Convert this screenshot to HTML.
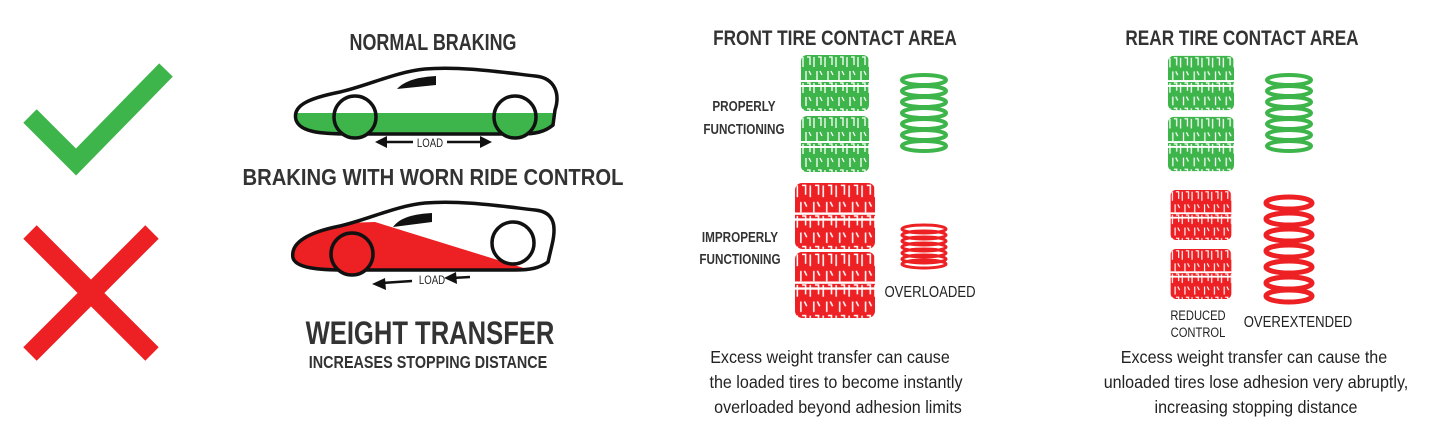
<!DOCTYPE html>
<html><head><meta charset="utf-8"><style>
html,body{margin:0;padding:0;background:#fff;}
svg{display:block}
text{font-family:"Liberation Sans",sans-serif;font-weight:bold;fill:#333;}
text.n{font-weight:normal;fill:#222;}
</style></head><body>
<svg width="1440" height="440" viewBox="0 0 1440 440" xmlns="http://www.w3.org/2000/svg">
<defs>
<pattern id="tread" width="11" height="26" patternUnits="userSpaceOnUse">
 <path d="M2,2 L2,12 M6,2 L9,2 L9,10 M5,16 L5,25 M8,16 L10,20" stroke="#fff" stroke-width="1.3" fill="none"/>
</pattern>
<symbol id="tireG" viewBox="0 0 68 56">
 <rect x="0" y="0" width="68" height="56" rx="6" fill="#3db54a"/>
 <rect x="0" y="0" width="68" height="56" fill="url(#tread)"/>
 <rect x="0" y="25" width="68" height="2" fill="#fff"/><rect x="0" y="30" width="68" height="2" fill="#fff"/>
</symbol>
<symbol id="tireR" viewBox="0 0 68 56">
 <rect x="0" y="0" width="68" height="56" rx="6" fill="#ed2024"/>
 <rect x="0" y="0" width="68" height="56" fill="url(#tread)"/>
 <rect x="0" y="25" width="68" height="2" fill="#fff"/><rect x="0" y="30" width="68" height="2" fill="#fff"/>
</symbol>
<clipPath id="car1"><path d="M296,120 C292,105 310,98 340,92 C370,85 395,72 425,69 C460,66 500,72 535,76 C556,78 560,95 555,110 L553,125 C545,132 535,134 520,134 L350,134 C320,134 300,132 296,120Z"/></clipPath>
<clipPath id="car2"><path d="M293,258 C290,242 310,232 340,226 C370,219 395,206 425,203 C460,200 500,206 535,210 C556,212 556,228 552,245 L548,262 C540,268 530,270 515,270 L345,270 C318,270 296,268 293,258Z"/></clipPath>
<clipPath id="band"><rect x="280" y="113" width="290" height="40"/></clipPath>
</defs>

<polyline points="30,116 76,162 166,70" fill="none" stroke="#3db54a" stroke-width="19"/>
<path d="M30,232 L152,354 M152,232 L30,354" stroke="#ed2024" stroke-width="19"/>

<text x="433" y="50" font-size="23" text-anchor="middle" transform="translate(433 0) scale(0.78 1) translate(-433 0)">NORMAL BRAKING</text>
<text x="433" y="185" font-size="23" text-anchor="middle" transform="translate(433 0) scale(0.88 1) translate(-433 0)">BRAKING WITH WORN RIDE CONTROL</text>
<text x="430" y="344" font-size="32" text-anchor="middle" transform="translate(430 0) scale(0.8 1) translate(-430 0)">WEIGHT TRANSFER</text>
<text x="428" y="368" font-size="18" text-anchor="middle" transform="translate(428 0) scale(0.8 1) translate(-428 0)">INCREASES STOPPING DISTANCE</text>

<rect x="290" y="113" width="270" height="25" fill="#3db54a" clip-path="url(#car1)"/>
<path d="M296,120 C292,105 310,98 340,92 C370,85 395,72 425,69 C460,66 500,72 535,76 C556,78 560,95 555,110 L553,125 C545,132 535,134 520,134 L350,134 C320,134 300,132 296,120Z" fill="none" stroke="#111" stroke-width="3.5"/>
<path d="M397,89 C405,80 420,77 436,76 L436,85 Z" fill="#111"/>
<circle cx="355" cy="117" r="21" fill="#fff"/>
<circle cx="515" cy="117" r="21" fill="#fff"/>
<circle cx="355" cy="117" r="21" fill="#3db54a" clip-path="url(#band)"/>
<circle cx="515" cy="117" r="21" fill="#3db54a" clip-path="url(#band)"/>
<circle cx="355" cy="117" r="21" fill="none" stroke="#111" stroke-width="3.5"/>
<circle cx="515" cy="117" r="21" fill="none" stroke="#111" stroke-width="3.5"/>
<path d="M385,142 L413,142 M447,142 L480,142" stroke="#111" stroke-width="2.5"/>
<path d="M375,142 L387,136 L387,148Z M492,142 L480,136 L480,148Z" fill="#111"/>
<text class="n" x="430" y="147" font-size="12" text-anchor="middle" transform="translate(430 0) scale(0.8 1) translate(-430 0)">LOAD</text>

<polygon points="280,225 375,222 530,270 280,275" fill="#ed2024" clip-path="url(#car2)"/>
<path d="M293,258 C290,242 310,232 340,226 C370,219 395,206 425,203 C460,200 500,206 535,210 C556,212 556,228 552,245 L548,262 C540,268 530,270 515,270 L345,270 C318,270 296,268 293,258Z" fill="none" stroke="#111" stroke-width="3.5"/>
<path d="M393,227 C400,217 415,214 432,213 L432,222 Z" fill="#111"/>
<circle cx="352" cy="254" r="21" fill="#ed2024" stroke="#111" stroke-width="3.5"/>
<circle cx="513" cy="243" r="21" fill="none" stroke="#111" stroke-width="3.5"/>
<path d="M382,283 L412,281 M452,278 L470,277" stroke="#111" stroke-width="2.5"/>
<path d="M372,284 L385,278 L386,290Z M444,278 L456,272 L457,284Z" fill="#111"/>
<text class="n" x="432" y="284" font-size="12" text-anchor="middle" transform="translate(432 0) scale(0.8 1) translate(-432 0)">LOAD</text>

<text x="835" y="45" font-size="21" text-anchor="middle" transform="translate(835 0) scale(0.82 1) translate(-835 0)">FRONT TIRE CONTACT AREA</text>
<text x="744" y="111" font-size="15" text-anchor="middle" transform="translate(744 0) scale(0.78 1) translate(-744 0)">PROPERLY</text>
<text x="744" y="134" font-size="15" text-anchor="middle" transform="translate(744 0) scale(0.78 1) translate(-744 0)">FUNCTIONING</text>
<text x="740" y="242" font-size="15" text-anchor="middle" transform="translate(740 0) scale(0.78 1) translate(-740 0)">IMPROPERLY</text>
<text x="740" y="264" font-size="15" text-anchor="middle" transform="translate(740 0) scale(0.78 1) translate(-740 0)">FUNCTIONING</text>
<use href="#tireG" x="801" y="55" width="68" height="56"/>
<use href="#tireG" x="801" y="116" width="68" height="56"/>
<use href="#tireR" x="795" y="183" width="80" height="66"/>
<use href="#tireR" x="795" y="252" width="80" height="66"/>
<g fill="none" stroke="#3db54a" stroke-width="4">
 <ellipse cx="924" cy="80" rx="22" ry="5"/><ellipse cx="924" cy="91" rx="22" ry="5"/><ellipse cx="924" cy="102" rx="22" ry="5"/><ellipse cx="924" cy="113" rx="22" ry="5"/><ellipse cx="924" cy="124" rx="22" ry="5"/><ellipse cx="924" cy="135" rx="22" ry="5"/><ellipse cx="924" cy="146" rx="22" ry="5"/>
</g>
<g fill="none" stroke="#ed2024" stroke-width="3">
 <ellipse cx="924" cy="229" rx="22" ry="4"/><ellipse cx="924" cy="235" rx="22" ry="4"/><ellipse cx="924" cy="241" rx="22" ry="4"/><ellipse cx="924" cy="247" rx="22" ry="4"/><ellipse cx="924" cy="253" rx="22" ry="4"/><ellipse cx="924" cy="259" rx="22" ry="4"/><ellipse cx="924" cy="264" rx="22" ry="4"/>
</g>
<text class="n" x="930" y="297" font-size="16" text-anchor="middle" transform="translate(930 0) scale(0.82 1) translate(-930 0)">OVERLOADED</text>
<g font-size="17.5" text-anchor="middle">
<text class="n" x="830" y="363" transform="translate(830 0) scale(0.92 1) translate(-830 0)">Excess weight transfer can cause</text>
<text class="n" x="836" y="388" transform="translate(836 0) scale(0.92 1) translate(-836 0)">the loaded tires to become instantly</text>
<text class="n" x="838" y="413" transform="translate(838 0) scale(0.92 1) translate(-838 0)">overloaded beyond adhesion limits</text>
</g>

<text x="1242" y="45" font-size="21" text-anchor="middle" transform="translate(1242 0) scale(0.82 1) translate(-1242 0)">REAR TIRE CONTACT AREA</text>
<use href="#tireG" x="1168" y="55" width="66" height="56"/>
<use href="#tireG" x="1168" y="116" width="66" height="56"/>
<use href="#tireR" x="1170" y="190" width="62" height="50"/>
<use href="#tireR" x="1170" y="249" width="62" height="50"/>
<g fill="none" stroke="#3db54a" stroke-width="4">
 <ellipse cx="1289" cy="80" rx="22" ry="5"/><ellipse cx="1289" cy="91" rx="22" ry="5"/><ellipse cx="1289" cy="102" rx="22" ry="5"/><ellipse cx="1289" cy="113" rx="22" ry="5"/><ellipse cx="1289" cy="124" rx="22" ry="5"/><ellipse cx="1289" cy="135" rx="22" ry="5"/><ellipse cx="1289" cy="146" rx="22" ry="5"/>
</g>
<g fill="none" stroke="#ed2024" stroke-width="5">
 <ellipse cx="1289" cy="203" rx="23" ry="6"/><ellipse cx="1289" cy="219" rx="23" ry="6"/><ellipse cx="1289" cy="235" rx="23" ry="6"/><ellipse cx="1289" cy="251" rx="23" ry="6"/><ellipse cx="1289" cy="267" rx="23" ry="6"/><ellipse cx="1289" cy="283" rx="23" ry="6"/><ellipse cx="1289" cy="296" rx="23" ry="6"/>
</g>
<text class="n" x="1198" y="320" font-size="14" text-anchor="middle" transform="translate(1198 0) scale(0.8 1) translate(-1198 0)">REDUCED</text>
<text class="n" x="1198" y="337" font-size="14" text-anchor="middle" transform="translate(1198 0) scale(0.8 1) translate(-1198 0)">CONTROL</text>
<text class="n" x="1298" y="327" font-size="16" text-anchor="middle" transform="translate(1298 0) scale(0.82 1) translate(-1298 0)">OVEREXTENDED</text>
<g font-size="17.5" text-anchor="middle">
<text class="n" x="1254" y="363" transform="translate(1254 0) scale(0.92 1) translate(-1254 0)">Excess weight transfer can cause the</text>
<text class="n" x="1256" y="388" transform="translate(1256 0) scale(0.92 1) translate(-1256 0)">unloaded tires lose adhesion very abruptly,</text>
<text class="n" x="1256" y="413" transform="translate(1256 0) scale(0.92 1) translate(-1256 0)">increasing stopping distance</text>
</g>
</svg>
</body></html>
